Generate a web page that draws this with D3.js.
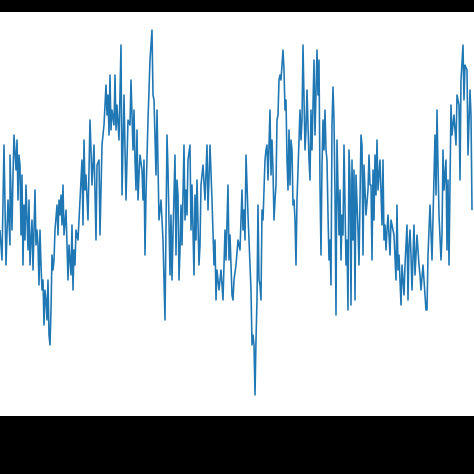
<!DOCTYPE html><html><head><meta charset="utf-8"><script src="https://cdn.jsdelivr.net/npm/d3@7"></script>
<style>body{margin:0;background:#000}</style></head><body><script>
const t=[0,2,4,6,8,10,10,12,13,14,16,17,18,19,20,21,22,23,24,25,26,28,29,30,31,32,33,35,36,37,38,39,40,41,42,43,44,45,46,47,48,49,50,51,52,53,54,55,57,58,59,60,61,62,63,64,66,68,69,71,72,73,74,75,76,78,80,82,83,84,85,86,88,90,91,92,94,96,97,99,100,102,104,106,107,108,109,110,111,112,114,115,116,117,119,121,122,124,126,128,130,131,133,134,135,136,137,138,139,140,142,143,144,145,146,148,150,152,153,154,156,157,159,161,163,165,167,168,170,171,172,173,175,176,177,178,179,180,181,182,184,185,186,187,188,190,191,192,194,195,196,197,199,200,201,203,205,207,208,210,212,214,215,216,217,219,221,223,225,226,228,229,230,232,233,234,236,238,240,242,243,244,245,246,248,249,251,252,253,254,255,256,257,258,259,260,261,262,263,265,266,267,268,270,271,272,273,274,275,276,277,278,279,280,281,282,283,284,285,286,287,288,289,290,291,292,293,294,295,296,297,298,300,301,302,303,305,306,307,309,310,311,312,314,315,317,318,319,320,321,322,323,324,325,326,327,328,329,330,331,332,333,334,335,336,337,339,340,341,342,343,344,346,347,348,349,350,351,352,353,354,355,356,358,359,361,362,363,364,366,368,369,370,371,372,373,374,375,376,377,378,380,382,383,384,385,386,387,388,390,391,393,394,396,397,398,399,401,402,404,405,407,408,409,410,411,412,414,415,417,419,420,421,423,424,426,427,428,430,432,435,436,437,438,439,441,442,443,444,446,447,448,449,451,452,454,456,457,459,460,461,463,464,465,467,468,470,471,472];
const ypix=[230,260,145,265,200,245,155,230,175,135,170,140,200,155,165,235,175,265,205,240,185,250,200,265,240,220,270,190,245,230,245,285,230,265,290,280,325,290,300,320,280,335,345,310,255,270,260,230,205,235,200,215,195,225,185,235,210,280,245,275,225,290,250,265,230,240,200,160,225,140,190,175,220,120,150,185,145,240,165,160,235,145,125,85,115,95,135,75,130,110,125,75,130,105,140,45,195,95,200,120,125,80,150,110,160,190,130,200,175,155,170,200,160,255,195,120,60,30,95,100,175,110,220,200,240,320,135,170,275,215,280,235,155,255,180,195,280,250,205,245,145,220,190,215,160,145,230,185,275,195,240,180,265,245,185,165,200,145,210,145,200,265,240,300,270,290,270,300,230,260,185,260,235,295,300,280,265,240,250,190,230,210,240,155,215,240,290,345,335,345,395,340,300,205,280,285,300,210,220,160,150,145,180,110,175,140,170,220,200,185,120,115,80,75,80,65,50,70,110,100,160,190,130,185,140,150,205,200,220,265,200,170,110,140,120,45,150,130,90,160,180,110,150,60,135,50,95,60,185,255,165,120,150,110,150,160,215,260,240,285,125,87,120,195,315,140,235,190,260,215,235,145,265,240,310,150,180,305,160,240,170,300,175,230,265,135,145,255,165,215,190,155,185,185,260,170,220,155,195,140,190,160,225,160,240,225,250,230,215,255,220,230,235,280,205,270,255,305,265,295,265,225,300,245,230,255,290,225,275,235,265,275,290,265,280,310,310,255,205,260,135,195,110,165,215,260,235,150,190,160,250,180,265,105,135,115,145,95,105,180,80,45,100,65,70,155,90,115,210];
const values=ypix.map(y=>416-y);
const W=474,H=474;
const svg=d3.select("body").append("svg").attr("width",W).attr("height",H);
svg.append("rect").attr("width",W).attr("height",H).attr("fill","#000");
svg.append("rect").attr("x",0).attr("y",12).attr("width",W).attr("height",404).attr("fill","#fff");
const x=d3.scaleLinear().domain([0,474]).range([0,474]);
const y=d3.scaleLinear().domain([0,404]).range([416,12]);
svg.append("path").datum(t.map((d,i)=>[d,values[i]])).attr("fill","none").attr("stroke","#1f77b4").attr("stroke-width",1.6).attr("stroke-linejoin","round")
 .attr("d",d3.line().x(d=>x(d[0])).y(d=>y(d[1])));
</script></body></html>
